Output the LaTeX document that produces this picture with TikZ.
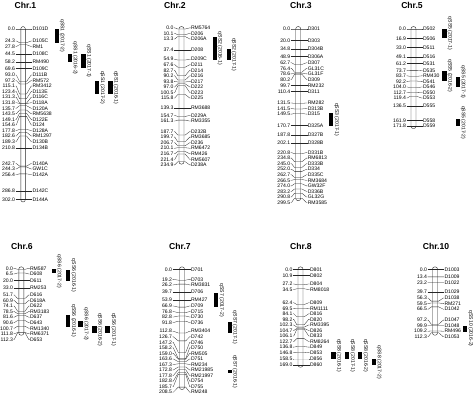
\documentclass[tikz,border=0pt]{standalone}
\usepackage{fontspec}
\setmainfont{Liberation Sans}
\newcount\mkc
\tikzset{
  numl/.style={anchor=east,inner sep=0.3pt,font=\fontsize{5.1}{5.1}\selectfont},
  naml/.style={anchor=west,inner sep=0.3pt,font=\fontsize{5.1}{5.1}\selectfont},
  tickln/.style={line width=0.3pt,draw=black!85},
  chrom/.style={draw=black!85,line width=0.4pt,fill=white,rounded corners=2.2pt},
  qbar/.style={fill=black},
  qlab/.style={rotate=-90,anchor=south,inner sep=0pt,font=\fontsize{5.1}{5.1}\selectfont},
  ctitle/.style={font=\fontsize{8.6}{9}\selectfont\bfseries}
}
\newcommand\setchr[4]{\def\xn{#1}\def\xa{#2}\def\xb{#3}\def\xm{#4}}
\newcommand\mk[4]{%
  \global\advance\mkc by 1
  \edef\mkn{\the\mkc}%
  \node[numl] (n\mkn) at (\xn,#2) {#3};
  \node[naml] (m\mkn) at (\xm,#2) {#4};
  \draw[tickln] (n\mkn.east) -- ++(0.8,0) -- (\xa-1.2,#1) -- (\xb+1.2,#1) -- ([xshift=-0.8pt]m\mkn.west) -- (m\mkn.west);
}
\newcommand\qtl[6]{%
  \fill[qbar] (#2,#3) rectangle (#4,#5);
  \node[qlab] (#1) at ({#4+0.7},{(#3+#5)/2}) {#6};
}
\begin{document}
\begin{tikzpicture}[x=1pt,y=-1pt]
\useasboundingbox (0,0) rectangle (474,396);
% ---------- Chr.1
\node[ctitle] (t1) at (25.5,5.5) {Chr.1};
\setchr{15.5}{20.8}{25.3}{32}
\draw[chrom] (20.8,26.6) rectangle (25.3,202.0);
\mk{29.00}{29.00}{0.0}{D101D}
\mk{42.73}{40.95}{24.3}{D105C}
\mk{44.71}{46.50}{27.8}{RM1}
\mk{54.14}{54.14}{44.5}{D108C}
\mk{61.88}{61.88}{58.2}{RM490}
\mk{68.32}{68.32}{69.6}{D109C}
\mk{81.55}{74.99}{93.0}{D111B}
\mk{83.92}{80.54}{97.2}{RM572}
\mk{94.03}{86.09}{115.1}{RM3412}
\mk{98.72}{91.64}{123.4}{D113E}
\mk{103.18}{97.19}{131.3}{D116C}
\mk{103.47}{102.74}{131.8}{D118A}
\mk{105.67}{108.29}{135.7}{D120A}
\mk{110.08}{113.84}{143.5}{RM5638}
\mk{113.24}{119.39}{149.1}{D122E}
\mk{116.35}{124.94}{154.6}{D124}
\mk{129.46}{130.49}{177.8}{D128A}
\mk{132.17}{136.04}{182.6}{RM1297}
\mk{135.95}{141.59}{189.3}{D130B}
\mk{148.10}{148.10}{210.8}{D134B}
\mk{166.13}{163.46}{242.7}{D140A}
\mk{167.03}{169.01}{244.3}{GW1C}
\mk{173.87}{174.56}{256.4}{D142A}
\mk{191.04}{191.04}{286.8}{D142C}
\mk{199.63}{199.63}{302.0}{D144A}
\qtl{q1a}{54.5}{29}{59}{42.7}{qSS1 (2017-2)}
\qtl{q1b}{67.7}{54}{72}{62}{qSS1 (2016-2)}
\qtl{q1c}{81}{54}{85.7}{68}{qSS1 (2017-1)}
\qtl{q1d}{94.5}{81}{99.2}{94.3}{qSS1 (2017-2)}
\qtl{q1e}{108}{81}{112.7}{94.3}{qSS1 (2016-1)}
% ---------- Chr.2
\node[ctitle] (t2) at (175,5.5) {Chr.2};
\setchr{174}{179}{184}{190.5}
\draw[chrom] (179,26.6) rectangle (184,164.1);
\mk{29.00}{27.86}{0.0}{RM5764}
\mk{34.71}{33.41}{10.1}{D206}
\mk{36.51}{38.96}{13.3}{D206A}
\mk{50.13}{50.13}{37.4}{D208}
\mk{60.02}{59.19}{54.9}{D209C}
\mk{67.19}{64.74}{67.6}{D211}
\mk{75.73}{70.29}{82.7}{D214}
\mk{79.96}{75.84}{90.2}{D216}
\mk{82.00}{81.39}{93.8}{D217}
\mk{83.81}{86.94}{97.0}{D222}
\mk{85.78}{92.49}{100.5}{D223}
\mk{94.43}{98.04}{115.8}{D225}
\mk{107.70}{107.70}{139.3}{RM3688}
\mk{116.41}{115.50}{154.7}{D229A}
\mk{120.13}{121.05}{161.3}{RM3355}
\mk{135.05}{131.58}{187.7}{D232B}
\mk{141.83}{137.13}{199.7}{RM3685}
\mk{145.79}{142.68}{206.7}{D236}
\mk{147.71}{148.23}{210.1}{RM6472}
\mk{151.44}{153.78}{216.7}{RM426}
\mk{154.09}{159.33}{221.4}{RM5607}
\mk{161.72}{164.88}{234.9}{D238A}
\qtl{q2a}{212.7}{36.7}{216.7}{60}{qSS2 (2016-1)}
\qtl{q2b}{226.7}{49.3}{230.7}{60}{qSS2 (2017-1)}
% ---------- Chr.3
\node[ctitle] (t3) at (301,5.5) {Chr.3};
\setchr{290.7}{295.7}{300.7}{307.3}
\draw[chrom] (295.7,26.6) rectangle (300.7,200.6);
\mk{29.00}{29.00}{0.0}{D301}
\mk{40.30}{40.30}{20.0}{D303}
\mk{48.66}{48.66}{34.8}{D304B}
\mk{56.63}{56.63}{48.9}{D306A}
\mk{64.43}{62.76}{62.7}{D307}
\mk{72.17}{68.31}{76.4}{GL31C}
\mk{73.41}{73.86}{78.6}{GL31F}
\mk{74.31}{79.41}{80.2}{D309}
\mk{85.33}{85.33}{99.7}{RM232}
\mk{91.38}{91.38}{110.4}{D311}
\mk{103.30}{103.02}{131.5}{RM282}
\mk{108.95}{108.57}{141.5}{D313B}
\mk{113.47}{114.12}{149.5}{D315}
\mk{125.45}{125.45}{170.7}{D325A}
\mk{135.11}{135.11}{187.8}{D327B}
\mk{143.19}{143.19}{202.1}{D328B}
\mk{153.75}{152.58}{220.8}{D331B}
\mk{161.66}{158.13}{234.8}{RM6813}
\mk{167.43}{163.68}{245.0}{D333B}
\mk{171.38}{169.23}{252.0}{D334}
\mk{177.43}{174.78}{262.7}{D335C}
\mk{179.57}{180.33}{266.5}{RM3684}
\mk{183.81}{185.88}{274.0}{GW32F}
\mk{189.01}{191.43}{283.2}{D336B}
\mk{193.30}{196.98}{290.8}{GL32G}
\mk{198.22}{202.53}{299.5}{RM3585}
\qtl{q3a}{329}{113.3}{333.3}{126}{qSS3 (2017-1)}
% ---------- Chr.5
\node[ctitle] (t5) at (412,5.5) {Chr.5};
\setchr{406.5}{411}{416}{422.5}
\draw[chrom] (411,26.6) rectangle (416,128.5);
\mk{29.00}{29.00}{0.0}{D502}
\mk{38.55}{38.55}{16.9}{D506}
\mk{47.65}{47.65}{33.0}{D511}
\mk{56.74}{56.74}{49.1}{D516}
\mk{63.58}{63.58}{61.2}{D531}
\mk{70.64}{70.29}{73.7}{D535}
\mk{76.29}{75.84}{83.7}{RM430}
\mk{81.09}{81.39}{92.2}{D541}
\mk{87.76}{86.94}{104.0}{D546}
\mk{92.68}{92.49}{112.7}{D550}
\mk{96.46}{98.04}{119.4}{D553}
\mk{106.12}{106.12}{136.5}{D555}
\mk{120.47}{120.47}{161.9}{D558}
\mk{126.07}{126.07}{171.8}{D559}
\qtl{q5a}{442.3}{29}{446.7}{37.7}{qSS5 (2017-1)}
\qtl{q5b}{442.3}{70.7}{446.7}{81}{qSS5 (2016-2)}
\qtl{q5c}{455.7}{76.7}{460}{87.3}{qSS5 (2017-1)}
\qtl{q5d}{455.7}{119.3}{460}{126}{qSS5 (2017-2)}
% ---------- Chr.6
\node[ctitle] (t6) at (22,246.5) {Chr.6};
\setchr{13.5}{18.8}{23.8}{29.5}
\draw[chrom] (18.8,266.9) rectangle (23.8,335.2);
\mk{269.30}{268.36}{0.0}{RM587}
\mk{272.97}{273.91}{6.5}{D608}
\mk{280.60}{280.60}{20.0}{D611}
\mk{287.95}{287.95}{33.0}{RM253}
\mk{298.51}{294.95}{51.7}{D616}
\mk{303.71}{300.50}{60.9}{D618A}
\mk{311.17}{306.05}{74.1}{D622}
\mk{313.65}{311.60}{78.5}{RM3183}
\mk{315.40}{317.15}{81.6}{D637}
\mk{320.49}{322.70}{90.6}{D643}
\mk{326.20}{328.25}{100.7}{RM1340}
\mk{332.47}{333.80}{111.8}{RM6371}
\mk{332.75}{339.35}{112.3}{D653}
\qtl{q6a}{52.3}{269.3}{56}{273.3}{qSS6 (2017-2)}
\qtl{q6b}{65.7}{270}{70.3}{281}{qSS6 (2016-1)}
\qtl{q6c}{65.7}{315}{70.3}{326.7}{qSS6 (2016-1)}
\qtl{q6d}{78.3}{320.7}{83}{327.3}{qSS6 (2017-2)}
\qtl{q6e}{91.7}{326}{96.7}{333.3}{qSS6 (2016-2)}
\qtl{q6f}{105.3}{326}{110.3}{333.3}{qSS6 (2017-1)}
% ---------- Chr.7
\node[ctitle] (t7) at (180,246.5) {Chr.7};
\setchr{172.5}{179.5}{184.5}{190.5}
\draw[chrom] (179.5,266.9) rectangle (184.5,389.5);
\mk{269.30}{269.30}{0.0}{D701}
\mk{280.15}{279.35}{19.2}{D703}
\mk{284.10}{284.90}{26.2}{RM3831}
\mk{291.73}{291.73}{39.7}{D706}
\mk{299.75}{299.75}{53.9}{RM427}
\mk{307.10}{305.94}{66.9}{D709}
\mk{312.69}{311.49}{76.8}{D715}
\mk{316.08}{317.04}{82.8}{D730}
\mk{321.17}{322.59}{91.8}{D736}
\mk{333.03}{331.17}{112.8}{RM3404}
\mk{340.89}{336.72}{126.7}{D742}
\mk{352.47}{342.27}{147.2}{D746}
\mk{358.68}{347.82}{158.2}{D750}
\mk{359.14}{353.37}{159.0}{RM505}
\mk{361.73}{358.92}{163.6}{D751}
\mk{363.82}{364.47}{167.3}{RM234}
\mk{366.93}{370.02}{172.8}{RM21985}
\mk{369.76}{375.57}{177.8}{RM21997}
\mk{372.58}{381.12}{182.8}{D754}
\mk{374.22}{386.67}{185.7}{D755}
\mk{387.10}{392.22}{208.5}{RM248}
\qtl{q7a}{213.7}{293.3}{218.3}{307.3}{qSS7 (2017-2)}
\qtl{q7b}{227.7}{321.7}{231.7}{333.3}{qSS7 (2017-1)}
\qtl{q7c}{227.7}{370}{231.7}{373.3}{qSS7 (2016-1)}
% ---------- Chr.8
\node[ctitle] (t8) at (301,246.5) {Chr.8};
\setchr{293}{298}{303}{309.5}
\draw[chrom] (298,266.9) rectangle (303,367.2);
\mk{269.30}{269.30}{0.0}{D801}
\mk{275.46}{275.46}{10.9}{D802}
\mk{284.67}{283.96}{27.2}{D804}
\mk{288.79}{289.51}{34.5}{RM8018}
\mk{304.56}{302.73}{62.4}{D809}
\mk{308.57}{308.28}{69.5}{RM1111}
\mk{316.82}{313.83}{84.1}{D816}
\mk{324.78}{319.38}{98.2}{D820}
\mk{327.10}{324.93}{102.3}{RM3395}
\mk{328.46}{330.48}{104.7}{D826}
\mk{329.25}{336.03}{106.1}{D833}
\mk{338.63}{341.58}{122.7}{RM8264}
\mk{346.59}{347.13}{136.8}{D849}
\mk{352.24}{352.68}{146.8}{D853}
\mk{358.85}{358.85}{158.5}{D856}
\mk{364.79}{364.79}{169.0}{D860}
\qtl{q8a}{331}{352.3}{335.7}{359}{qSS8 (2016-1)}
\qtl{q8b}{345}{352.3}{349.3}{359}{qSS8 (2017-1)}
\qtl{q8c}{357.5}{352.3}{362.3}{359}{qSS8 (2016-2)}
\qtl{q8d}{371.7}{359.3}{376}{365.3}{qSS8 (2017-2)}
% ---------- Chr.10
\node[ctitle] (t10) at (436,246.5) {Chr.10};
\setchr{427.5}{432.5}{437.5}{444}
\draw[chrom] (432.5,266.9) rectangle (437.5,335.2);
\mk{269.30}{269.30}{0.0}{D1003}
\mk{276.87}{276.86}{13.4}{D1009}
\mk{282.41}{282.42}{23.2}{D1022}
\mk{291.73}{291.73}{39.7}{D1029}
\mk{301.11}{298.08}{56.3}{D1038}
\mk{302.92}{303.63}{59.5}{RM271}
\mk{306.87}{309.18}{66.5}{D1042}
\mk{324.22}{320.11}{97.2}{D1047}
\mk{325.74}{325.66}{99.9}{D1048}
\mk{331.00}{331.21}{109.2}{RM496}
\mk{332.75}{336.76}{112.3}{D1053}
\qtl{q10a}{463.3}{325.7}{467.3}{331.7}{qSS10 (2016-2)}
\end{tikzpicture}
\end{document}
